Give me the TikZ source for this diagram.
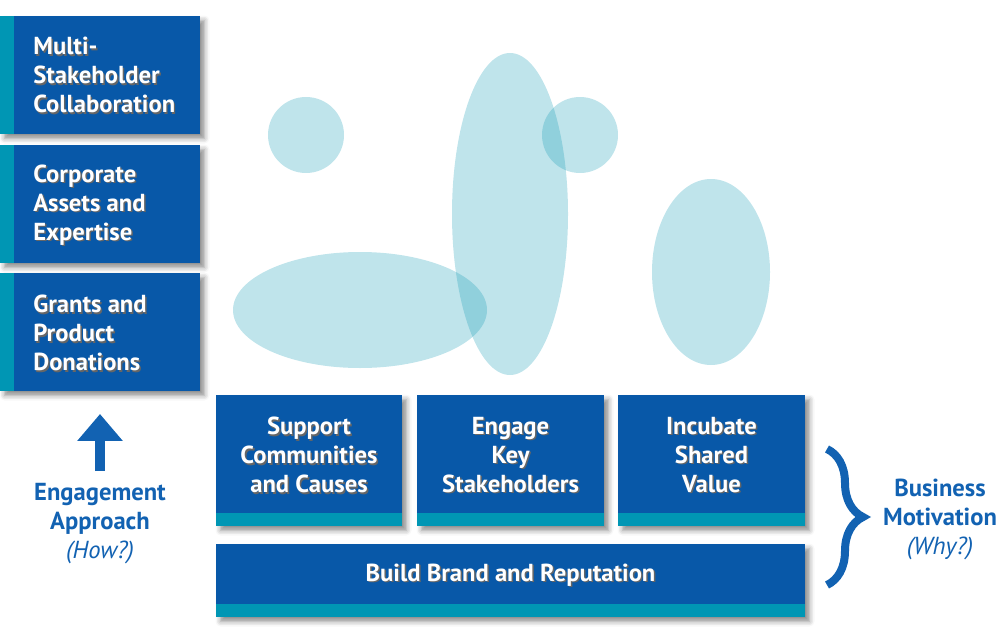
\documentclass[tikz,border=0pt]{standalone}
\usepackage{fontspec}
\setmainfont{PT Sans}
\usetikzlibrary{calc,arrows.meta,shadows.blur,decorations.pathreplacing}
\definecolor{boxblue}{RGB}{8,88,168}
\definecolor{stripteal}{RGB}{0,150,180}
\definecolor{textblue}{RGB}{18,98,178}
\definecolor{bubble}{RGB}{2,147,175}
\tikzset{
  panel/.style={fill=boxblue,blur shadow={shadow xshift=0.09cm,shadow yshift=-0.09cm,shadow blur radius=0.1cm,shadow opacity=45}},
  strip/.style={fill=stripteal},
  bubblefill/.style={fill=bubble,fill opacity=0.25},
  boxtext/.style={font=\fontsize{14}{16.5}\selectfont\bfseries,inner sep=0pt},
  sidetext/.style={font=\fontsize{14}{16.5}\selectfont,text=textblue,align=center,inner sep=0pt},
}
\newcommand{\shadowlabel}[4]{%
  \node[boxtext,text=black!60,#3] (#1-sh) at ($(#2)+(1.5,1.5)$) {#4};
  \node[boxtext,text=white,#3] (#1) at (#2) {#4};}

\begin{document}
\begin{tikzpicture}[x=0.02cm,y=-0.02cm]
    \useasboundingbox (0,0) rectangle (1000,635);
    % bubbles
    \fill[bubblefill] (306,135) circle[radius=38];
    \fill[bubblefill] (580,135) circle[radius=38];
    \fill[bubblefill] (510,214) ellipse[x radius=58,y radius=161];
    \fill[bubblefill] (360,310) ellipse[x radius=127,y radius=58];
    \fill[bubblefill] (711,272) ellipse[x radius=59,y radius=93];
    % engagement approach boxes
    \foreach \t/\b in {16/134,145/263,273/391}{
        \fill[panel] (0,\t) rectangle (200,\b);
        \fill[strip] (0,\t) rectangle (14,\b);
    }
    \shadowlabel{multi}{33,75}{anchor=west,align=left}{Multi-\\Stakeholder\\Collaboration}
    \shadowlabel{assets}{33,205}{anchor=west,align=left}{Corporate\\Assets and\\Expertise}
    \shadowlabel{grants}{33,333}{anchor=west,align=left}{Grants and\\Product\\Donations}
    % business motivation boxes
    \foreach \l/\r in {216/402,417/604,618/805}{
        \fill[panel] (\l,395) rectangle (\r,526);
        \fill[strip] (\l,513) rectangle (\r,526);
    }
    \fill[panel] (216,544) rectangle (805,617);
    \fill[strip] (216,604) rectangle (805,617);
    \shadowlabel{support}{309,455}{align=center}{Support\\Communities\\and Causes}
    \shadowlabel{engage}{510.5,455}{align=center}{Engage\\Key\\Stakeholders}
    \shadowlabel{incubate}{711.5,455}{align=center}{Incubate\\Shared\\Value}
    \shadowlabel{build}{510.5,575}{align=center}{Build Brand and Reputation}
    % how / why
    \coordinate (arrowfoot) at (100,471);
    \coordinate (arrowtip) at (100,414);
    \draw[textblue,line width=0.2cm,-{Triangle[width=0.88cm,length=0.54cm]}] (arrowfoot) -- (arrowtip);
    \node[sidetext] (approach) at (100,524) {\textbf{Engagement}\\\textbf{Approach}\\\textit{(How?)}};
    \coordinate (bracetop) at (827,449);
    \coordinate (bracebot) at (827,585);
    \draw[textblue,line width=0.16cm,decorate,decoration={brace,amplitude=0.72cm}] (bracetop) -- (bracebot);
    \node[sidetext] (motive) at (940,519) {\textbf{Business}\\\textbf{Motivation}\\\textit{(Why?)}};
\end{tikzpicture}
\end{document}
